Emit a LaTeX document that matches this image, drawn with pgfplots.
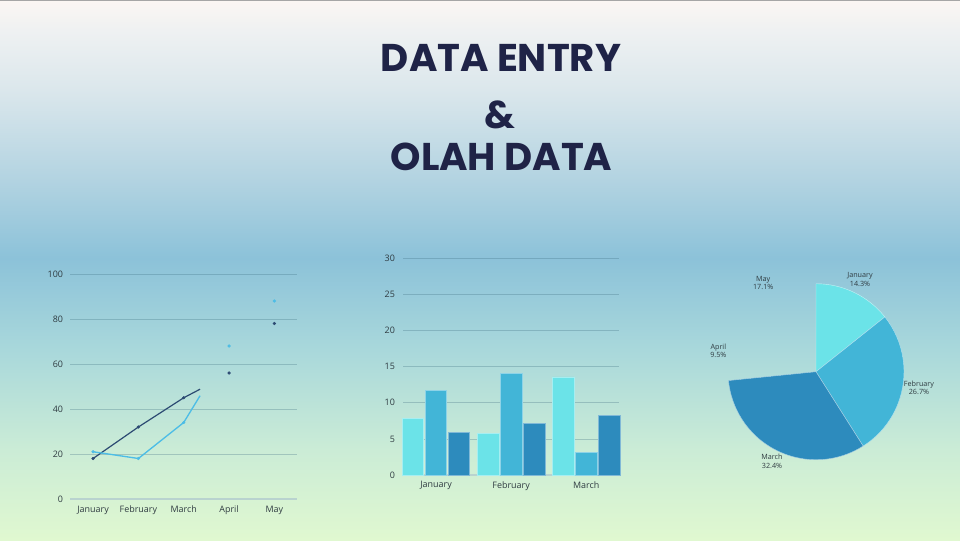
\documentclass[border=0pt]{standalone}
\usepackage{fontspec}
\setmainfont{Open Sans}
\newfontfamily\titlefont{Poppins}
\usepackage{pgfplots}
\pgfplotsset{compat=1.18}

\definecolor{bgA}{HTML}{E0F8D0}
\definecolor{bgB}{HTML}{CBECD6}
\definecolor{bgC}{HTML}{A9D8DB}
\definecolor{bgD}{HTML}{8CC2D9}
\definecolor{bgE}{HTML}{B2D3E1}
\definecolor{bgF}{HTML}{DBE7EC}
\definecolor{bgG}{HTML}{EFF1F2}
\definecolor{bgH}{HTML}{FBF6F3}
\definecolor{navy}{HTML}{1F2347}
\definecolor{tickc}{HTML}{2F3B41}
\definecolor{gridc}{HTML}{3E6E80}
\definecolor{basec}{HTML}{B9D3CF}
\definecolor{dark line}{HTML}{2C4A72}
\definecolor{light line}{HTML}{4DBDE6}
\definecolor{c1}{HTML}{6BE3E8}
\definecolor{c2}{HTML}{42B5D7}
\definecolor{c3}{HTML}{2D8BBD}

\pgfdeclareverticalshading{bgshade}{100bp}{%
  color(0bp)=(bgA); color(25bp)=(bgA); color(33.3bp)=(bgB);
  color(42.6bp)=(bgC); color(51.1bp)=(bgD); color(58.3bp)=(bgE);
  color(66.7bp)=(bgF); color(72.2bp)=(bgG); color(75bp)=(bgH);
  color(100bp)=(bgH)}

\pgfplotsset{
  panel/.style={
    scale only axis,
    anchor=south west,
    axis line style={draw=none},
    major tick length=0pt,
    ymajorgrids,
    grid style={gridc, opacity=0.3, line width=0.5pt},
    tick label style={font=\fontsize{6.7}{7.5}\selectfont, text=tickc},
    /pgf/number format/assume math mode=true,
    clip=false,
  },
}

\begin{document}
\begin{tikzpicture}[x=0.75pt,y=0.75pt]
\useasboundingbox (0,0) rectangle (960,540);
\shade[shading=bgshade] (0,0) rectangle (960,540);
\fill[black!35] (0,538.7) rectangle (960,540);

% title
\begin{scope}[every node/.style={font=\titlefont\bfseries\fontsize{29}{31}\selectfont, text=navy, inner sep=0pt}]
\node at (501,482.5) {DATA ENTRY};
\node at (500,425) {\&};
\node at (501.5,383.5) {OLAH DATA};
\end{scope}

% line chart
\begin{axis}[panel,
  at={(52.8pt,30.75pt)}, width=170pt, height=168.75pt,
  xmin=-0.5, xmax=4.5, ymin=0, ymax=100,
  xtick={0,1,2,3,4}, xticklabels={January,February,March,April,May},
  ytick={0,20,40,60,80,100},
  xticklabel style={yshift=-1.5pt},
  yticklabel style={xshift=-2pt},
]
\draw[basec, line width=0.9pt] (rel axis cs:0,0) -- (rel axis cs:1,0);
\addplot[dark line, line width=0.9pt] coordinates {(0,18) (1,32) (2,45) (2.36,48.8)};
\addplot[light line, line width=1pt] coordinates {(0,21) (1,18) (2,34) (2.36,45.9)};
\addplot[only marks, mark=*, mark size=1pt, dark line] coordinates {(0,18) (1,32) (2,45) (3,56) (4,78)};
\addplot[only marks, mark=*, mark size=1pt, light line] coordinates {(0,21) (1,18) (2,34) (3,68) (4,88)};
\end{axis}

% bar chart
\begin{axis}[panel,
  at={(302.25pt,48.75pt)}, width=162.2pt, height=162.5pt,
  xmin=-0.44, xmax=2.44, ymin=0, ymax=30,
  xtick={0,1,2}, xticklabels={January,February,March},
  ytick={0,5,10,15,20,25,30},
  xticklabel style={yshift=-1.2pt},
  yticklabel style={xshift=-2.5pt},
  ybar, bar width=16pt,
]
\draw[basec, line width=0.9pt] (rel axis cs:0,0) -- (rel axis cs:1,0);
\addplot[fill=c1, draw=c1!60!white, line width=0.4pt, bar shift=-17.25pt] coordinates {(0,7.8) (1,5.8) (2,13.6)};
\addplot[fill=c2, draw=c2!60!white, line width=0.4pt, bar shift=0pt] coordinates {(0,11.7) (1,14.1) (2,3.1)};
\addplot[fill=c3, draw=c3!60!white, line width=0.4pt, bar shift=17.25pt] coordinates {(0,5.9) (1,7.1) (2,8.3)};
\end{axis}

% pie chart (January 14.3, February 26.7, March 32.4, April 9.5, May 17.1)
\begin{axis}[
  at={(612pt,126.2pt)}, anchor=center,
  scale only axis, width=158.4pt, height=158.4pt,
  xmin=-1.2, xmax=1.2, ymin=-1.2, ymax=1.2,
  hide axis, clip=false,
]
\fill[c1, draw=white!60!c1, line width=0.3pt] (axis cs:0,0) -- ++(90:66pt) arc[start angle=90, end angle={90-14.3*3.6}, radius=66pt] -- cycle;
\fill[c2, draw=white!60!c2, line width=0.3pt] (axis cs:0,0) -- ++({90-14.3*3.6}:66pt) arc[start angle={90-14.3*3.6}, end angle={90-(14.3+26.7)*3.6}, radius=66pt] -- cycle;
\fill[c3, draw=white!60!c3, line width=0.3pt] (axis cs:0,0) -- ++({90-(14.3+26.7)*3.6}:66pt) arc[start angle={90-(14.3+26.7)*3.6}, end angle={90-(14.3+26.7+32.4)*3.6}, radius=66pt] -- cycle;
\begin{scope}[every node/.style={font=\fontsize{5.4}{6.3}\selectfont, text=tickc, align=center, inner sep=0pt}]
\node at (axis cs:0.50,1.05) {January\\14.3\%};
\node at (axis cs:1.17,-0.18) {February\\26.7\%};
\node at (axis cs:-0.50,-1.02) {March\\32.4\%};
\node at (axis cs:-1.11,0.24) {April\\9.5\%};
\node at (axis cs:-0.60,1.01) {May\\17.1\%};
\end{scope}
\end{axis}
\end{tikzpicture}
\end{document}
